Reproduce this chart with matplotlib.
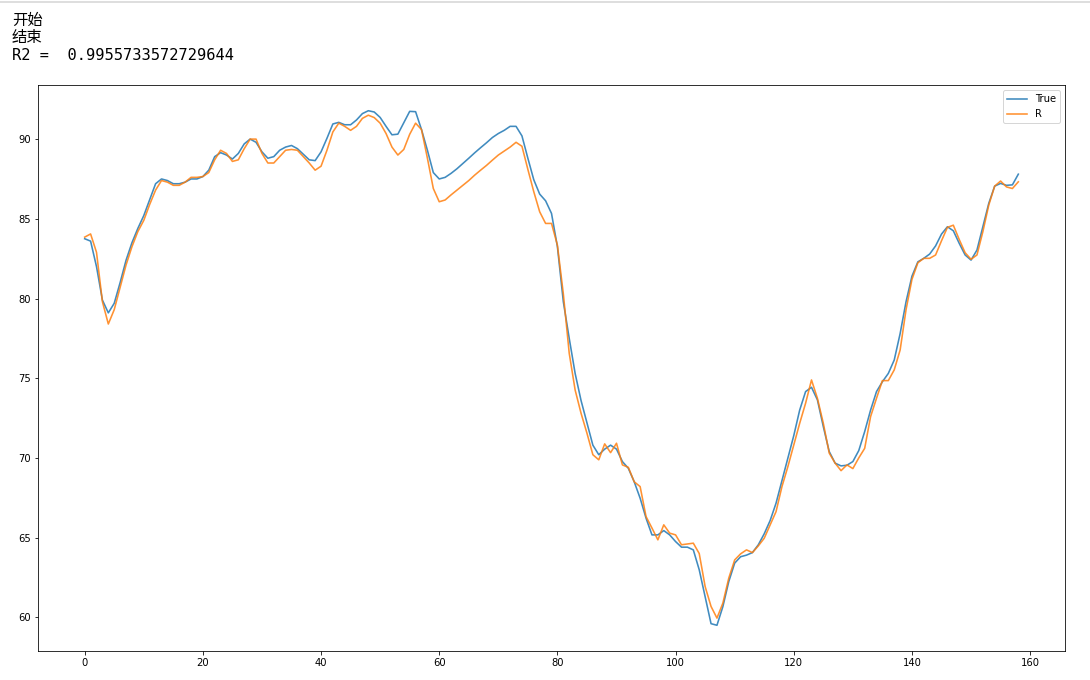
import numpy as np
import matplotlib
matplotlib.use("Agg")
import matplotlib.pyplot as plt
from matplotlib.lines import Line2D

# values, index 0..158
true_vals = [
    83.75, 83.6, 82.0, 79.9, 79.1, 79.7, 81.0, 82.4, 83.5, 84.4,
    85.2, 86.2, 87.2, 87.5, 87.4, 87.2, 87.2, 87.3, 87.5, 87.5,
    87.65, 88.05, 88.9, 89.15, 89.0, 88.75, 89.1, 89.7, 90.0, 89.8,
    89.2, 88.8, 88.9, 89.3, 89.5, 89.6, 89.4, 89.05, 88.7, 88.65,
    89.2, 90.05, 90.95, 91.05, 90.9, 90.9, 91.2, 91.6, 91.78, 91.7,
    91.36, 90.8, 90.27, 90.31, 91.02, 91.74, 91.72, 90.6, 89.3, 87.9,
    87.5, 87.6, 87.85, 88.14, 88.47, 88.8, 89.14, 89.46, 89.77, 90.1,
    90.35, 90.55, 90.8, 90.8, 90.2, 88.8, 87.45, 86.55, 86.13, 85.34,
    83.25, 79.8, 77.5, 75.3, 73.6, 72.2, 70.8, 70.2, 70.55, 70.8,
    70.55, 69.77, 69.35, 68.5, 67.47, 66.22, 65.17, 65.17, 65.44, 65.17,
    64.75, 64.4, 64.4, 64.23, 62.98, 61.3, 59.6, 59.5, 60.67, 62.24,
    63.4, 63.8, 63.9, 64.06, 64.55, 65.24, 66.07, 67.16, 68.58, 70.0,
    71.4, 73.0, 74.16, 74.43, 73.64, 71.96, 70.4, 69.67, 69.5, 69.54,
    69.77, 70.46, 71.65, 73.0, 74.16, 74.78, 75.3, 76.14, 77.8, 79.8,
    81.4, 82.3, 82.52, 82.79, 83.3, 84.04, 84.5, 84.25, 83.46, 82.73,
    82.41, 83.04, 84.5, 85.97, 87.05, 87.22, 87.1, 87.13, 87.8,
]

r_vals = [
    83.85, 84.05, 82.9, 79.8, 78.4, 79.3, 80.7, 82.1, 83.25, 84.2,
    84.9, 85.9, 86.8, 87.4, 87.3, 87.1, 87.1, 87.3, 87.6, 87.6,
    87.65, 87.9, 88.7, 89.3, 89.1, 88.6, 88.7, 89.4, 90.0, 90.0,
    89.1, 88.5, 88.5, 88.9, 89.3, 89.35, 89.3, 88.9, 88.5, 88.05,
    88.3, 89.3, 90.45, 91.0, 90.8, 90.55, 90.8, 91.3, 91.5, 91.35,
    91.0, 90.35, 89.5, 89.0, 89.35, 90.3, 91.0, 90.6, 88.8, 86.9,
    86.07, 86.18, 86.5, 86.8, 87.1, 87.4, 87.74, 88.05, 88.35, 88.68,
    89.0, 89.25, 89.5, 89.8, 89.55, 88.1, 86.7, 85.44, 84.71, 84.71,
    83.35, 80.3, 76.56, 74.26, 72.8, 71.55, 70.2, 69.88, 70.88, 70.33,
    70.92, 69.56, 69.41, 68.5, 68.2, 66.32, 65.6, 64.86, 65.8, 65.28,
    65.17, 64.55, 64.6, 64.65, 64.0, 61.93, 60.68, 59.95, 60.89, 62.46,
    63.6, 63.98, 64.23, 64.06, 64.48, 64.96, 65.8, 66.63, 68.2, 69.45,
    70.8, 72.17, 73.43, 74.89, 73.74, 72.17, 70.3, 69.67, 69.2, 69.56,
    69.33, 70.0, 70.6, 72.59, 73.74, 74.85, 74.85, 75.52, 76.77, 79.3,
    81.2, 82.24, 82.52, 82.52, 82.73, 83.62, 84.46, 84.6, 83.7, 82.87,
    82.46, 82.73, 84.19, 85.86, 87.05, 87.37, 87.0, 86.9, 87.32,
]

header_lines = ["开始", "结束", "R2 =  0.9955733572729644"]
series_labels = ["True", "R"]

x = np.arange(len(true_vals))

fig = plt.figure(figsize=(1090 / 72, 680 / 72), dpi=72)

# notebook-style printed output above the plot
mono = ["DejaVu Sans Mono", "Noto Sans CJK SC"]
for line, ypix in zip(header_lines, [24.5, 42, 59.5]):
    fig.text(12 / 1090, 1 - ypix / 680, line, family=mono, fontsize=15.4,
             va="baseline", ha="left", color="black")
fig.add_artist(Line2D([0, 1], [1 - 1.5 / 680] * 2, color="#d4d4d4", lw=1.5))

ax = fig.add_axes([38 / 1090, 1 - 651 / 680, (1065 - 38) / 1090, (651 - 85) / 680])
ax.plot(x, true_vals, color="#1f77b4", lw=1.6, alpha=0.85, label=series_labels[0])
ax.plot(x, r_vals, color="#ff7f0e", lw=1.6, alpha=0.85, label=series_labels[1])
ax.set_xticks(np.arange(0, 161, 20))
ax.set_yticks(np.arange(60, 91, 5))
ax.legend(loc="upper right")

fig.savefig("out.png", dpi=72)
